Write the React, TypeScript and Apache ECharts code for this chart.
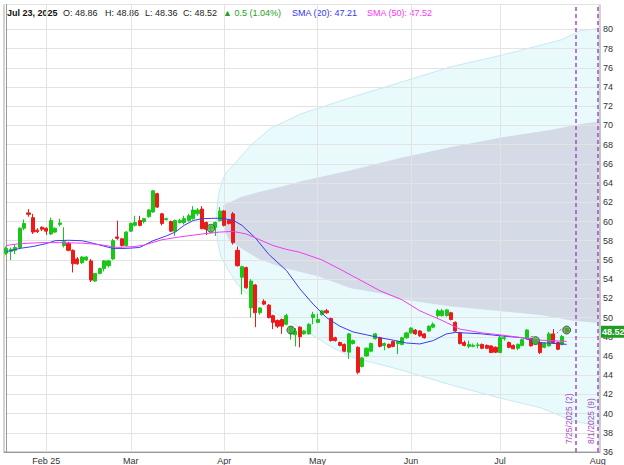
import React, { useEffect, useRef } from "react";
import * as echarts from "echarts";

// trading days per month (2025)
const monthDays: [string, number[]][] = [
  ["01", [21, 22, 23, 24, 27, 28, 29, 30, 31]],
  ["02", [3, 4, 5, 6, 7, 10, 11, 12, 13, 14, 18, 19, 20, 21, 24, 25, 26, 27, 28]],
  ["03", [3, 4, 5, 6, 7, 10, 11, 12, 13, 14, 17, 18, 19, 20, 21, 24, 25, 26, 27, 28, 31]],
  ["04", [1, 2, 3, 4, 7, 8, 9, 10, 11, 14, 15, 16, 17, 21, 22, 23, 24, 25, 28, 29, 30]],
  ["05", [1, 2, 5, 6, 7, 8, 9, 12, 13, 14, 15, 16, 19, 20, 21, 22, 23, 27, 28, 29, 30]],
  ["06", [2, 3, 4, 5, 6, 9, 10, 11, 12, 13, 16, 17, 18, 20, 23, 24, 25, 26, 27, 30]],
  ["07", [1, 2, 3, 7, 8, 9, 10, 11, 14, 15, 16, 17, 18, 21, 22, 23, 24, 25, 28, 29, 30, 31]],
  ["08", [1]],
];
const categories: string[] = monthDays.flatMap(([m, days]) =>
  days.map((d) => `2025-${m}-${String(d).padStart(2, "0")}`)
);

const monthLabels: [string, string][] = [
  ["2025-02-03", "Feb 25"],
  ["2025-03-03", "Mar"],
  ["2025-04-01", "Apr"],
  ["2025-05-01", "May"],
  ["2025-06-02", "Jun"],
  ["2025-07-01", "Jul"],
  ["2025-08-01", "Aug"],
];

// [open, high, low, close]
const candles: number[][] = [
  [56.7, 57.4, 56.5, 57.2], [56.9, 57.3, 56.0, 57.1], [57.0, 57.6, 56.6, 57.3], [57.3, 59.4, 57.1, 59.3], [59.3, 60.2, 59.1, 59.8],
  [60.9, 61.3, 60.5, 60.75], [60.4, 60.8, 58.7, 58.9], [59.1, 59.3, 58.8, 58.95], [59.4, 59.5, 59.0, 59.2], [59.3, 59.4, 58.6, 59.0],
  [58.7, 60.4, 58.6, 60.1], [58.9, 59.4, 58.8, 59.3], [59.7, 60.3, 59.5, 59.85], [57.5, 59.4, 57.3, 57.9], [57.7, 57.9, 56.9, 57.0],
  [57.0, 57.1, 54.7, 55.6], [56.1, 56.3, 55.5, 55.6], [55.7, 56.4, 55.6, 56.3], [56.0, 56.4, 55.9, 56.3], [55.9, 56.1, 53.7, 53.9],
  [53.8, 54.6, 53.7, 54.6], [54.6, 55.2, 54.5, 55.1], [55.1, 56.0, 54.8, 55.9], [55.4, 56.0, 55.2, 55.9], [56.1, 58.2, 56.0, 58.0],
  [58.4, 60.1, 58.1, 58.25], [58.2, 58.3, 57.4, 57.5], [57.5, 59.0, 57.4, 58.9], [59.0, 59.9, 58.9, 59.8], [59.6, 60.6, 59.5, 59.9],
  [60.1, 60.6, 59.5, 59.6], [60.0, 60.4, 59.8, 60.3], [60.5, 61.3, 60.4, 61.2], [61.0, 63.3, 60.9, 63.2], [62.9, 63.0, 61.4, 61.5],
  [60.8, 60.9, 59.6, 59.8], [60.2, 60.4, 60.1, 60.3], [60.0, 60.1, 58.9, 59.0], [59.0, 60.2, 58.5, 60.1], [59.9, 60.3, 59.8, 60.1],
  [59.9, 60.6, 59.7, 60.3], [60.1, 60.8, 60.0, 60.6], [60.3, 61.6, 60.2, 61.2], [60.8, 61.4, 60.6, 61.2], [61.3, 61.6, 59.2, 59.25],
  [59.9, 60.0, 58.6, 59.2], [59.3, 59.6, 59.0, 59.4], [59.4, 60.0, 58.5, 59.9], [60.1, 61.5, 60.0, 61.1], [61.1, 61.2, 59.5, 59.6],
  [60.1, 60.2, 59.7, 59.8], [60.8, 61.0, 57.6, 57.8], [57.0, 57.4, 55.3, 55.4], [54.2, 55.4, 52.4, 55.3], [55.2, 55.3, 53.0, 53.1],
  [51.0, 54.0, 50.0, 53.8], [53.4, 53.5, 49.0, 50.5], [50.5, 51.1, 50.3, 51.0], [51.7, 51.9, 51.3, 51.4], [51.3, 51.4, 49.9, 50.0],
  [50.2, 50.3, 48.8, 49.5], [49.7, 49.8, 48.9, 49.1], [49.8, 49.9, 48.3, 49.1], [49.3, 50.4, 49.2, 50.2], [48.3, 49.1, 47.7, 49.0],
  [48.2, 48.9, 47.0, 48.6], [49.0, 49.1, 46.9, 48.0], [48.3, 48.7, 48.2, 48.6], [48.3, 49.4, 48.2, 49.3], [50.0, 50.6, 49.3, 50.3],
  [49.5, 50.4, 49.4, 49.8], [50.3, 50.8, 50.2, 50.7], [50.7, 50.9, 50.4, 50.5], [49.9, 50.0, 47.5, 47.6], [47.9, 48.0, 47.5, 47.6],
  [47.4, 47.5, 47.0, 47.1], [47.2, 47.3, 46.4, 46.5], [46.4, 48.4, 45.7, 48.3], [47.3, 47.7, 47.2, 47.6], [46.9, 47.0, 44.1, 44.3],
  [44.9, 45.9, 44.8, 45.8], [46.0, 46.9, 45.9, 46.8], [46.5, 47.4, 46.4, 47.3], [47.8, 48.4, 47.7, 48.3], [47.9, 48.0, 46.9, 47.0],
  [47.1, 47.4, 46.6, 47.3], [47.2, 47.3, 46.8, 46.9], [47.5, 47.6, 46.9, 47.0], [47.3, 47.6, 46.2, 47.5], [47.2, 48.0, 47.1, 47.9],
  [47.9, 48.5, 47.8, 48.4], [48.4, 49.0, 48.3, 48.9], [48.7, 48.8, 48.2, 48.3], [48.6, 48.7, 48.0, 48.1], [48.3, 48.4, 47.8, 47.9],
  [48.6, 49.2, 48.5, 49.1], [49.0, 49.5, 48.9, 49.3], [50.2, 50.9, 50.0, 50.7], [50.2, 50.9, 50.1, 50.7], [50.2, 50.9, 50.1, 50.8],
  [50.5, 50.6, 49.7, 49.8], [49.5, 49.6, 48.5, 48.6], [48.4, 48.5, 47.2, 47.3], [47.4, 47.6, 47.0, 47.1], [47.0, 47.6, 46.8, 47.2],
  [47.0, 47.3, 46.9, 47.1], [47.1, 47.4, 46.8, 47.15], [47.2, 47.3, 46.7, 46.8], [47.1, 47.2, 46.7, 46.8], [47.05, 47.1, 46.3, 46.35],
  [46.9, 47.0, 46.3, 46.4], [46.35, 48.2, 46.3, 47.9], [47.8, 48.1, 47.6, 47.9], [47.4, 47.5, 46.8, 46.9], [47.1, 47.2, 46.7, 46.75],
  [46.8, 47.3, 46.6, 47.2], [47.1, 47.8, 47.0, 47.7], [47.8, 48.8, 47.7, 48.7], [47.8, 47.9, 47.0, 47.05], [47.3, 47.8, 47.2, 47.7],
  [47.4, 47.5, 46.2, 46.35], [46.9, 47.4, 46.8, 47.3], [47.05, 48.5, 47.0, 48.3], [48.3, 48.8, 47.3, 47.4], [47.4, 47.5, 46.6, 46.7],
  [47.2, 48.2, 47.1, 48.02], [48.86, 48.86, 48.36, 48.52],
];

// SMA readings [trading-day index, value]
const sma20: number[][] = [
  [0, 56.85], [3, 57.2], [6, 57.4], [9, 57.7], [11, 58.0], [14, 58.05], [17, 58.0], [19, 57.8], [21, 57.55], [24, 57.2],
  [27, 57.2], [30, 57.3], [33, 58.0], [36, 58.5], [38, 58.9], [40, 59.6], [42, 60.1], [44, 60.3], [48, 60.35], [51, 60.15],
  [53, 59.6], [56, 58.3], [59, 56.6], [63, 54.9], [66, 53.0], [69, 51.4], [72, 50.0], [75, 49.1], [78, 48.5], [81, 48.2],
  [84, 47.9], [87, 47.65], [90, 47.35], [93, 47.25], [96, 47.6], [99, 48.3], [101, 48.45], [107, 48.3], [111, 48.1],
  [116, 47.9], [120, 47.4], [126, 47.21],
];
const sma50: number[][] = [
  [0, 57.5], [3, 57.7], [8, 57.8], [12, 57.8], [17, 57.75], [21, 57.6], [25, 57.3], [29, 57.4], [31, 57.55], [35, 58.1],
  [39, 58.4], [44, 58.7], [48, 58.9], [51, 58.97], [54, 58.7], [57, 58.1], [60, 57.5], [63, 57.1], [66, 56.8], [71, 56.0],
  [75, 55.05], [80, 53.8], [84, 52.8], [89, 51.85], [93, 50.7], [98, 49.7], [102, 48.8], [107, 48.4], [111, 48.2],
  [116, 47.9], [120, 47.65], [126, 47.52],
];

// projection cone outlines [index, value]
const coneOuter: number[][] = [
  [48.6, 64.3], [47.7, 62.7], [47.25, 60.6], [47.5, 58.0], [48.2, 56.4], [50.0, 54.9], [51.75, 53.6], [53.3, 52.8],
  [58.7, 51.0], [63.2, 49.7], [68.4, 48.3], [73.6, 46.8], [78.1, 45.8], [82.6, 45.3], [88.7, 44.55], [99.9, 43.0],
  [111.2, 41.6], [120.2, 40.6], [127.6, 39.2], [133.5, 38.7], [133.5, 80.1], [129.2, 79.9], [124.7, 78.9], [111.2, 77.3],
  [99.9, 76.1], [88.7, 74.5], [77.4, 72.9], [66.2, 71.2], [59.4, 69.7], [54.9, 67.9], [51.5, 66.1], [49.5, 65.1],
];
const coneInner: number[][] = [
  [48.8, 61.65], [52.7, 62.5], [56.5, 63.0], [62.8, 63.7], [66.2, 64.15], [77.4, 65.3], [88.7, 66.6], [99.9, 67.7],
  [111.2, 68.7], [122.4, 69.5], [129, 70.1], [133.5, 70.4], [133.5, 49.45], [127.6, 49.7], [120.2, 50.3], [111.2, 50.7],
  [99.9, 51.2], [88.7, 51.95], [84.8, 52.5], [77.4, 53.1], [70, 54.35], [62.3, 55.2], [56.5, 56.2], [52.7, 57.3],
  [50.0, 58.2], [48.8, 59.6],
];

const markerIdx: number[] = [46, 64, 119, 126];
const markerVal: number[] = [59.3, 48.7, 47.6, 48.7];

// small dashed arcs next to the latest markers
const arcA: number[][] = [[117.3, 47.7], [118.0, 48.0], [118.8, 48.05]];
const arcB: number[][] = [[123.8, 48.35], [124.7, 48.75], [125.6, 48.9]];

const lastClose = 48.52;
const eventLines: [string, string][] = [
  ["2025-07-25", "7/25/2025 (2)"],
  ["2025-08-01", "8/1/2025 (9)"],
];

const header: [string, number, string, boolean][] = [
  ["Jul 23, 2025", 7, "#111", true],
  ["O: 48.86", 63, "#222", false],
  ["H: 48.86", 105, "#222", false],
  ["L: 48.36", 145, "#222", false],
  ["C: 48.52", 183, "#222", false],
  ["\u25B2 0.5 (1.04%)", 223, "#22a022", false],
  ["SMA (20): 47.21", 292, "#3333ff", false],
  ["SMA (50): 47.52", 367, "#ff33ff", false],
];

const FONT = '"Liberation Sans", Arial, sans-serif';
const PURPLE = "#a64dbf";

export default function App() {
  const ref = useRef<HTMLDivElement>(null);
  useEffect(() => {
    if (!ref.current) return;
    const chart = echarts.init(ref.current, undefined, { renderer: "svg" });
    const labelSet = new Map(monthLabels);
    const tickIdx = new Set(monthLabels.map(([d]) => categories.indexOf(d)));
    const splitColors = [...Array(23).fill("#e3e3e3"), "transparent"];

    const arcSeries = (data: number[][]) => ({
      type: "line",
      xAxisIndex: 1,
      data,
      smooth: true,
      showSymbol: false,
      silent: true,
      z: 4,
      lineStyle: { color: PURPLE, width: 1, type: [2, 2] },
    });

    const option: any = {
      animation: false,
      backgroundColor: "#fff",
      textStyle: { fontFamily: FONT },
      grid: { left: 4, right: 24, top: 4.5, bottom: 13, show: true, borderColor: "#a8a8a8", borderWidth: 1 },
      xAxis: [
        {
          type: "category",
          data: categories,
          boundaryGap: true,
          axisLine: { show: true, lineStyle: { color: "#999" } },
          axisTick: { show: false },
          axisLabel: {
            interval: (i: number) => tickIdx.has(i),
            formatter: (v: string) => labelSet.get(v) || "",
            fontSize: 9,
            color: "#333",
            margin: 4,
            fontFamily: FONT,
          },
          splitLine: {
            show: true,
            interval: (i: number) => tickIdx.has(i),
            alignWithLabel: true,
            lineStyle: { color: "#e3e3e3", width: 1 },
          },
        },
        { type: "value", min: -0.5, max: 133.5, show: false, splitLine: { show: false } },
      ],
      yAxis: {
        type: "value",
        position: "right",
        min: 36,
        max: 82.6,
        interval: 2,
        axisLine: { show: true, lineStyle: { color: "#999" } },
        axisTick: { show: false },
        axisLabel: {
          fontSize: 9,
          color: "#333",
          margin: 3,
          fontFamily: FONT,
          formatter: (v: number) => (v > 81 ? "" : String(v)),
        },
        splitLine: { show: true, lineStyle: { color: splitColors, width: 1 } },
      },
      graphic: header.map(([text, x, color, bold]) => ({
        type: "text",
        x,
        y: 13,
        silent: true,
        style: {
          text,
          fill: color,
          fontSize: 9,
          fontFamily: FONT,
          fontWeight: bold ? "bold" : "normal",
          verticalAlign: "middle",
        },
      })),
      series: [
        {
          type: "custom",
          xAxisIndex: 1,
          yAxisIndex: 0,
          z: -1,
          silent: true,
          data: [[0, 50]],
          renderItem: (_params: any, api: any) => ({
            type: "group",
            children: [
              {
                type: "polygon",
                shape: { points: coneOuter.map((p) => api.coord(p)) },
                style: { fill: "#e9fafc", stroke: "#c6eaf1", lineWidth: 1 },
              },
              {
                type: "polygon",
                shape: { points: coneInner.map((p) => api.coord(p)) },
                style: { fill: "#d4dbe7", stroke: "#cad3e2", lineWidth: 0.5 },
              },
            ],
          }),
        },
        {
          type: "candlestick",
          xAxisIndex: 0,
          barMaxWidth: 3.6,
          barWidth: 3.6,
          data: candles.map(([o, h, l, c]) => [o, c, l, h]),
          itemStyle: {
            color: "#18c818",
            color0: "#ee1a1a",
            borderColor: "#18c818",
            borderColor0: "#ee1a1a",
            borderWidth: 1,
          },
          markLine: {
            silent: true,
            symbol: ["none", "none"],
            animation: false,
            data: [
              ...eventLines.map(([d, t]) => ({
                xAxis: d,
                lineStyle: { type: [4, 3], color: PURPLE, width: 1.5 },
                label: {
                  show: true,
                  formatter: t,
                  position: "insideStartTop",
                  color: PURPLE,
                  fontSize: 8.5,
                  fontFamily: FONT,
                  distance: [8, 2],
                },
              })),
              {
                yAxis: lastClose,
                lineStyle: { color: "transparent", width: 0 },
                label: {
                  show: true,
                  position: "end",
                  formatter: lastClose.toFixed(2),
                  color: "#fff",
                  fontWeight: "bold",
                  fontSize: 9,
                  fontFamily: FONT,
                  backgroundColor: "#229c22",
                  padding: [2, 1, 1, 1],
                  distance: 1,
                },
              },
            ],
          },
        },
        {
          type: "line",
          xAxisIndex: 1,
          data: sma20,
          showSymbol: false,
          lineStyle: { color: "#3b3bf0", width: 1 },
          itemStyle: { color: "#3b3bf0" },
          silent: true,
        },
        {
          type: "line",
          xAxisIndex: 1,
          data: sma50,
          showSymbol: false,
          lineStyle: { color: "#f03cf0", width: 1 },
          itemStyle: { color: "#f03cf0" },
          silent: true,
        },
        arcSeries(arcA),
        arcSeries(arcB),
        {
          type: "scatter",
          xAxisIndex: 1,
          data: markerIdx.map((i, k) => [i, markerVal[k]]),
          symbolSize: 8,
          itemStyle: { color: "#45b045", borderColor: "#3a4a3a", borderWidth: 1 },
          silent: true,
          z: 5,
        },
      ],
    };
    chart.setOption(option);
    return () => chart.dispose();
  }, []);
  return (
    <div
      ref={ref}
      style={{ position: "fixed", left: 0, top: 0, width: 624, height: 465, background: "#fff" }}
    />
  );
}
